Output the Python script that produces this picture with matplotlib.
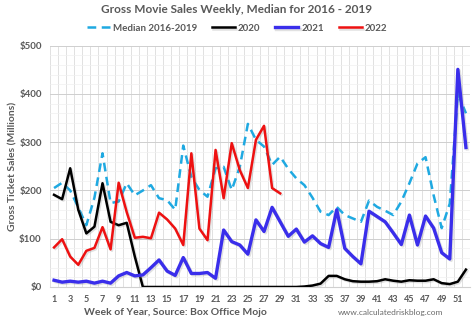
import matplotlib
matplotlib.use("Agg")
import matplotlib.pyplot as plt
import matplotlib.patheffects as pe
import numpy as np

plt.rcParams['font.family'] = ['Lato', 'DejaVu Sans']

weeks = list(range(1, 53))

median_1619 = [205, 216, 200, 165, 128, 185, 277, 174, 177, 215, 190, 200, 211, 184, 180, 160,
               293, 228, 201, 187, 246, 249, 201, 249, 338, 305, 291, 253, 270, 245, 225, 211,
               185, 156, 149, 166, 149, 142, 135, 179, 166, 158, 149, 177, 215, 256, 269, 190,
               122, 173, 401, 360]

y2020 = [191, 182, 246, 160, 111, 125, 215, 135, 128, 133, 63, 0, 0, 0, 0, 0,
         0, 0, 0, 0, 0, 0, 0, 0, 0, 0, 0, 0, 0, 0, 0, 1,
         3, 7, 23, 23, 16, 12, 11, 11, 12, 16, 13, 11, 14, 13, 13, 16,
         8, 6, 11, 36]

y2021 = [14, 10, 12, 10, 12, 8, 12, 8, 23, 30, 23, 25, 40, 56, 33, 24,
         61, 28, 28, 30, 18, 118, 94, 87, 68, 139, 115, 165, 135, 105, 120, 93,
         106, 90, 82, 160, 80, 63, 48, 157, 146, 135, 112, 88, 149, 87, 147, 122,
         71, 58, 451, 289]

weeks_2022 = list(range(1, 30))
y2022 = [82, 99, 63, 46, 75, 81, 124, 78, 216, 155, 102, 104, 101, 154, 140, 121,
         87, 277, 121, 97, 284, 184, 298, 242, 205, 305, 334, 205, 194]

grey = '#595959'

fig = plt.figure(figsize=(4.74, 3.23), dpi=100)
ax = fig.add_axes([0.1055, 0.1115, 0.886, 0.747])

shadow = [pe.SimpleLineShadow(offset=(1, -1), alpha=0.25, shadow_color='#888888'), pe.Normal()]

ax.plot(weeks, median_1619, color='#1FA9E1', lw=1.8, ls=(0, (3.5, 2.2)), label='Median 2016-2019', zorder=3)
ax.plot(weeks, y2020, color='black', lw=1.8, label='2020', path_effects=shadow, zorder=4)
ax.plot(weeks, y2021, color='#3A2EEB', lw=2.4, label='2021', path_effects=shadow, zorder=5)
ax.plot(weeks_2022, y2022, color='#EE1111', lw=1.8, label='2022', path_effects=shadow, zorder=6)

ax.set_xlim(0.5, 52.5)
ax.set_ylim(0, 500)
ax.set_xticks(range(1, 53, 2))
ax.set_xticks(np.arange(0.5, 53, 1), minor=True)
ax.set_yticks(range(0, 501, 100))
ax.set_yticklabels(['$%d' % v for v in range(0, 501, 100)])
ax.set_yticks(range(0, 501, 20), minor=True)

ax.grid(which='minor', axis='x', color='#dcdcdc', lw=0.6)
ax.grid(which='major', axis='y', color='#cfcfcf', lw=0.7)
ax.grid(which='minor', axis='y', color='#f0f0f0', lw=0.5)
ax.set_axisbelow(True)
for s in ax.spines.values():
    s.set_visible(False)
ax.spines['bottom'].set_visible(True)
ax.spines['bottom'].set_color('#d0d0d0')
ax.tick_params(which='both', length=0)
ax.tick_params(axis='x', labelsize=6.5, colors=grey, pad=6)
ax.tick_params(axis='y', labelsize=7, colors=grey, pad=6)
for t in ax.get_xticklabels() + ax.get_yticklabels():
    t.set_fontweight('bold')

ax.set_ylabel('Gross Ticket Sales (Millions)', fontsize=7.5, color=grey, fontweight='bold', labelpad=1)

fig.text(0.5, 0.972, 'Gross Movie Sales Weekly, Median for 2016 - 2019', ha='center', va='center',
         fontsize=8.5, color=grey, fontweight='bold')
fig.legend(loc='center', bbox_to_anchor=(0.5, 0.913), ncol=4, frameon=False,
           handlelength=2.4, handletextpad=0.3, columnspacing=1.5, labelcolor=grey,
           prop={'weight': 'bold', 'size': 7})

fig.text(0.178, 0.033, 'Week of Year, Source: Box Office Mojo', ha='left', va='center',
         fontsize=7.5, color=grey, fontweight='bold')
fig.text(0.712, 0.033, 'www.calculatedriskblog.com', ha='left', va='center',
         fontsize=6, color='#6a6a6a')

fig.savefig('out.png', dpi=100)
